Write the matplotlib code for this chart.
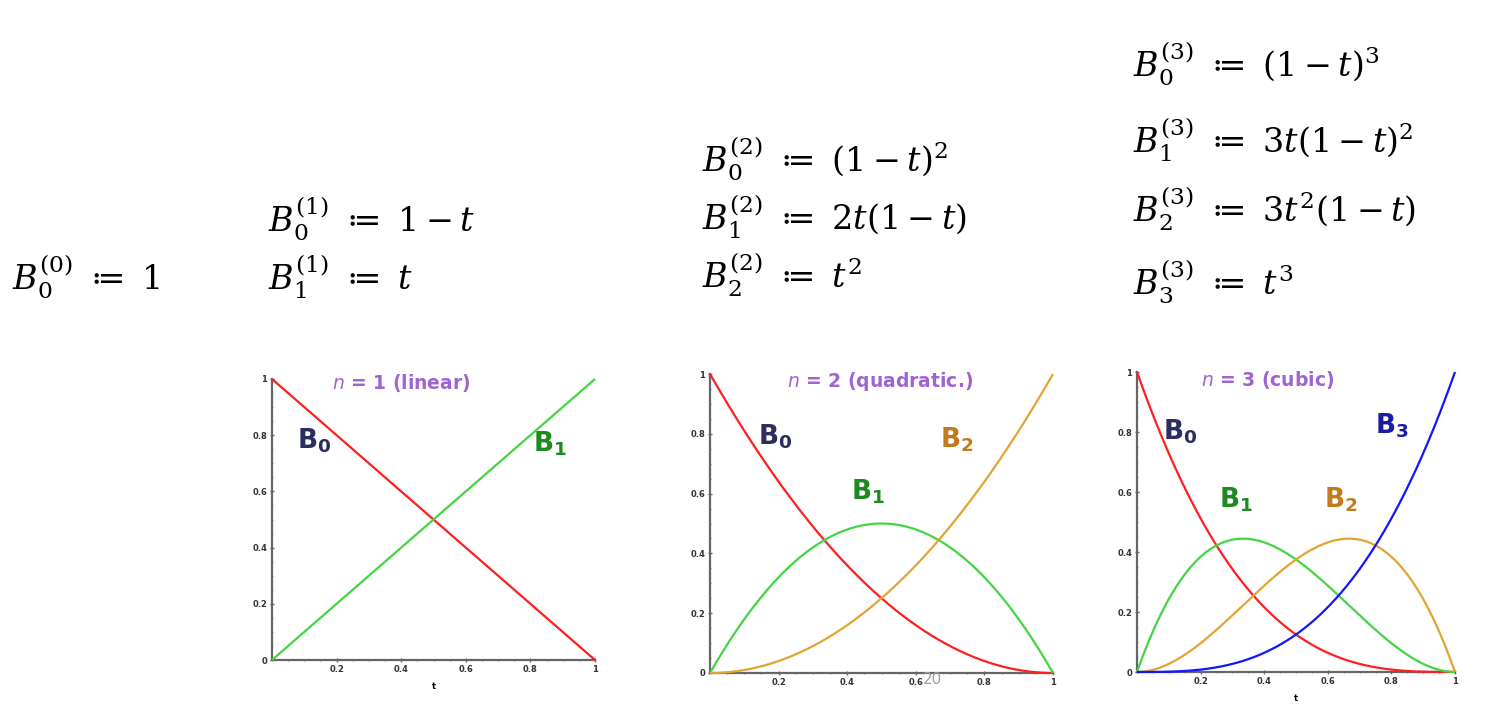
import numpy as np
import matplotlib.pyplot as plt
from math import comb

plt.rcParams['mathtext.fontset'] = 'dejavuserif'

# Bernstein basis definitions, one list of formulas per degree
formulas_n0 = [r"$B_0^{(0)}\ \coloneq\ 1$"]
formulas_n1 = [r"$B_0^{(1)}\ \coloneq\ 1-t$",
               r"$B_1^{(1)}\ \coloneq\ t$"]
formulas_n2 = [r"$B_0^{(2)}\ \coloneq\ (1-t)^2$",
               r"$B_1^{(2)}\ \coloneq\ 2t(1-t)$",
               r"$B_2^{(2)}\ \coloneq\ t^2$"]
formulas_n3 = [r"$B_0^{(3)}\ \coloneq\ (1-t)^3$",
               r"$B_1^{(3)}\ \coloneq\ 3t(1-t)^2$",
               r"$B_2^{(3)}\ \coloneq\ 3t^2(1-t)$",
               r"$B_3^{(3)}\ \coloneq\ t^3$"]

degrees = [1, 2, 3]
titles = ["(linear)", "(quadratic.)", "(cubic)"]
x_ticks = [0.2, 0.4, 0.6, 0.8, 1]
y_ticks = [0, 0.2, 0.4, 0.6, 0.8, 1]
tick_labels = ["0.2", "0.4", "0.6", "0.8", "1"]
y_tick_labels = ["0", "0.2", "0.4", "0.6", "0.8", "1"]

curve_colors = ["#ff1f1f", "#44d444", "#e2a532", "#1414ff"]
label_colors = ["#2b2d5e", "#1f8a1f", "#c07c1c", "#1c1ca0"]

t = np.linspace(0, 1, 300)


def bernstein(i, n, t):
    return comb(n, i) * t**i * (1 - t)**(n - i)


fig = plt.figure(figsize=(15.02, 7.21), dpi=100)

# formulas above the plots (pixel baselines converted to figure fraction)
W, H = 1502, 721
def put_formulas(lines, x, baselines):
    for s, b in zip(lines, baselines):
        fig.text(x / W, 1 - b / H, s, fontsize=24, va='baseline', ha='left')

put_formulas(formulas_n0, 12, [290])
put_formulas(formulas_n1, 268, [232, 290])
put_formulas(formulas_n2, 702, [172, 230, 288])
put_formulas(formulas_n3, 1133, [77, 153, 222, 295])

axes_rects = [
    [272 / W, 1 - 660 / H, 323 / W, 281 / H],
    [710 / W, 1 - 673 / H, 343 / W, 299 / H],
    [1137 / W, 1 - 672 / H, 318 / W, 300 / H],
]
label_pos = [
    [(0.13, 0.78), (0.86, 0.77)],
    [(0.19, 0.79), (0.46, 0.605), (0.72, 0.78)],
    [(0.135, 0.80), (0.31, 0.573), (0.64, 0.573), (0.80, 0.82)],
]
title_pos = [(0.40, 0.985), (0.495, 0.975), (0.41, 0.975)]

for k, n in enumerate(degrees):
    ax = fig.add_axes(axes_rects[k])
    for i in range(n + 1):
        ax.plot(t, bernstein(i, n, t), color=curve_colors[i], lw=1.6,
                solid_capstyle='butt', clip_on=False, zorder=3)
        lx, ly = label_pos[k][i]
        ax.text(lx, ly, r"$\mathbf{B}_{\mathbf{%d}}$" % i, color=label_colors[i],
                fontsize=19, ha='center', va='center',
                math_fontfamily='dejavusans')
    tx, ty = title_pos[k]
    ax.text(tx, ty, r"$\mathit{n}$" + " = %d %s" % (n, titles[k]), color="#a064d2",
            fontsize=13.5, fontweight='bold', ha='center', va='center',
            math_fontfamily='dejavusans')

    ax.set_xlim(0, 1)
    ax.set_ylim(0, 1)
    for side in ['top', 'right']:
        ax.spines[side].set_visible(False)
    for side in ['left', 'bottom']:
        ax.spines[side].set_color('#666666')
        ax.spines[side].set_linewidth(1.6)
    ax.set_xticks(x_ticks)
    ax.set_xticklabels(tick_labels)
    ax.set_yticks(y_ticks)
    ax.set_yticklabels(y_tick_labels)
    ax.set_xticks(np.arange(0.05, 1.0, 0.05), minor=True)
    ax.set_yticks(np.arange(0.05, 1.0, 0.05), minor=True)
    ax.tick_params(which='major', length=3, width=1, color='#666666',
                   direction='inout', labelsize=6, pad=2)
    ax.tick_params(which='minor', length=2, width=0.8, color='#888888',
                   direction='inout')
    for lab in ax.get_xticklabels() + ax.get_yticklabels():
        lab.set_fontweight('bold')
        lab.set_color('#333333')
    if n != 2:
        ax.set_xlabel("t", fontsize=6, fontweight='bold', labelpad=6)

# slide number
fig.text(933 / W, 1 - 679 / H, "20", color='#a0a0a0', fontsize=11,
         ha='center', va='center')

fig.savefig("out.png", dpi=100)
